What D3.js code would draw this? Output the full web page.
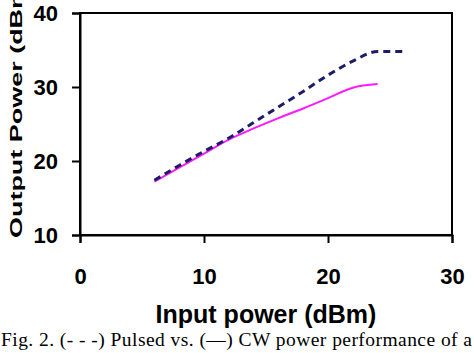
<!DOCTYPE html>
<html>
<head>
<meta charset="utf-8">
<script src="https://cdn.jsdelivr.net/npm/d3@7"></script>
<style>
  html, body { margin: 0; padding: 0; background: #fff; }
  svg { display: block; }
</style>
</head>
<body>
<script>
// Data
const inputPower = [6, 8, 10, 12, 14, 16, 18, 20, 22, 24, 26];
const pulsedOut  = [17.4, 19.4, 21.3, 23.1, 25.2, 27.3, 29.4, 31.6, 33.5, 34.8, 34.8];
const cwInput    = [6, 8, 10, 12, 14, 16, 18, 20, 22, 24];
const cwOut      = [17.2, 19.1, 21.0, 22.9, 24.4, 25.8, 27.1, 28.5, 29.9, 30.4];
const xTicks = [0, 10, 20, 30];
const yTicks = [10, 20, 30, 40];
const xTitle = "Input power (dBm)";
const yTitle = "Output Power (dBm)";
const caption = "Fig. 2.  (- - -) Pulsed vs. (\u2014) CW power performance of a";

const W = 474, H = 353;
const L = 80, R = 452, T = 13, B = 235;

const svg = d3.select("body").append("svg").attr("width", W).attr("height", H);

const x = d3.scaleLinear().domain([0, 30]).range([L, R]);
const y = d3.scaleLinear().domain([10, 40]).range([B, T]);

const sans = "'Liberation Sans', Arial, sans-serif";

// frame
svg.append("rect").attr("x", L).attr("y", T).attr("width", R - L).attr("height", B - T)
  .attr("fill", "none").attr("stroke", "#000").attr("stroke-width", 2);

// axes
const xAxis = svg.append("g").attr("transform", `translate(0,${B})`)
  .call(d3.axisBottom(x).tickValues(xTicks).tickSize(8).tickPadding(25).tickFormat(d3.format("d")));
const yAxis = svg.append("g").attr("transform", `translate(${L},0)`)
  .call(d3.axisLeft(y).tickValues(yTicks).tickSize(8).tickPadding(14).tickFormat(d3.format("d")));
[xAxis, yAxis].forEach(g => {
  g.select(".domain").attr("stroke", "#000").attr("stroke-width", 2);
  g.selectAll(".tick line").attr("stroke", "#000").attr("stroke-width", 2);
  g.selectAll(".tick text").attr("fill", "#000").style("font-family", sans)
    .style("font-weight", "bold").style("font-size", "22px");
});

// lines
const line = d3.line().x(d => x(d[0])).y(d => y(d[1])).curve(d3.curveMonotoneX);
svg.append("path").datum(cwInput.map((v, i) => [v, cwOut[i]]))
  .attr("d", line).attr("fill", "none").attr("stroke", "#ff1aff").attr("stroke-width", 2);
svg.append("path").datum(inputPower.map((v, i) => [v, pulsedOut[i]]))
  .attr("d", line).attr("fill", "none").attr("stroke", "#1c1c6b").attr("stroke-width", 3)
  .attr("stroke-dasharray", "7,5");

// x title
svg.append("text").attr("x", 266).attr("y", 323).attr("text-anchor", "middle")
  .style("font-family", sans).style("font-weight", "bold").style("font-size", "25px")
  .text(xTitle);

// y title (compressed, rotated)
svg.append("text").attr("transform", "translate(22,238) rotate(-90)")
  .attr("x", 0).attr("y", 0)
  .attr("textLength", 262).attr("lengthAdjust", "spacingAndGlyphs")
  .style("font-family", sans).style("font-weight", "bold").style("font-size", "17px")
  .text(yTitle);

// caption
svg.append("text").attr("x", 1).attr("y", 346)
  .attr("textLength", 471).attr("lengthAdjust", "spacing")
  .style("font-family", "'Liberation Serif', 'Times New Roman', serif").style("font-size", "19.5px")
  .text(caption);
</script>
</body>
</html>
